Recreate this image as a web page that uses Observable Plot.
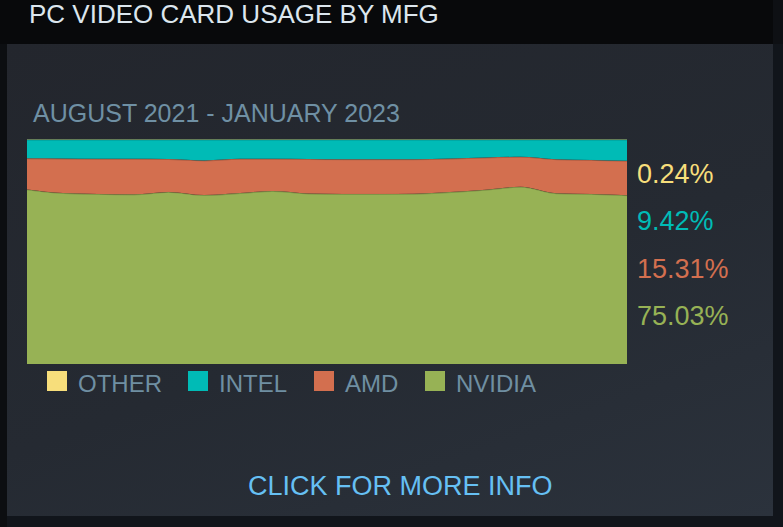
<!DOCTYPE html>
<html>
<head>
<meta charset="utf-8">
<script src="https://cdn.jsdelivr.net/npm/d3@7"></script>
<script src="https://cdn.jsdelivr.net/npm/@observablehq/plot@0.6"></script>
<style>
  html, body { margin:0; padding:0; }
  body { width:783px; height:527px; background:#11151b; position:relative; overflow:hidden;
         font-family:"Liberation Sans", Arial, sans-serif; }
  .abs { position:absolute; white-space:nowrap; line-height:1; }
  #header { left:0; top:0; width:783px; height:44px; background:#08090b; }
  #headerR { left:773px; top:0; width:10px; height:44px; background:#0e1014; }
  #leftStrip { left:0; top:44px; width:7px; height:483px; background:#0c0e11; }
  #panel { left:7px; top:44px; width:766px; height:472px;
           background:linear-gradient(160deg,#23262d 0%,#252a32 55%,#2b323c 100%); }
  #chart { left:27px; top:139px; }
</style>
</head>
<body>
<div class="abs" id="header"></div>
<div class="abs" id="headerR"></div>
<div class="abs" id="leftStrip"></div>
<div class="abs" id="panel"></div>
<div class="abs" id="title" style="left:29px; top:1px; font-size:26px; color:#dce6ee;">PC VIDEO CARD USAGE BY MFG</div>
<div class="abs" id="subtitle" style="left:33px; top:101px; font-size:25px; color:#6f90a4;">AUGUST 2021 - JANUARY 2023</div>
<div class="abs" id="chart"></div>
<div id="legend"></div>
<div id="labels"></div>
<div class="abs" id="more" style="left:248px; top:473px; font-size:27px; color:#66c0f4;">CLICK FOR MORE INFO</div>
<script>
// ---- data ----
const months = ["2021-08-01","2021-09-01","2021-10-01","2021-11-01","2021-12-01","2022-01-01",
                "2022-02-01","2022-03-01","2022-04-01","2022-05-01","2022-06-01","2022-07-01",
                "2022-08-01","2022-09-01","2022-10-01","2022-11-01","2022-12-01","2023-01-01"];
const nvidia = [77.60,76.00,75.60,75.40,76.50,75.10,76.00,76.90,75.80,75.60,75.60,75.70,76.40,77.50,78.80,75.90,75.60,75.03];
const amd    = [13.80,15.30,15.60,15.81,14.60,15.40,15.21,14.31,15.30,15.41,15.41,15.31,14.90,14.30,13.31,15.11,15.11,15.31];
const intel  = [8.34,8.45,8.55,8.55,8.65,9.25,8.55,8.55,8.65,8.75,8.75,8.75,8.45,7.95,7.65,8.75,9.05,9.42];
const other  = [0.26,0.25,0.25,0.24,0.25,0.25,0.24,0.24,0.25,0.24,0.24,0.24,0.25,0.25,0.24,0.24,0.24,0.24];

const stackOrder = ["NVIDIA","AMD","INTEL","OTHER"];      // bottom to top
const legendOrder = ["OTHER","INTEL","AMD","NVIDIA"];
const colors = {NVIDIA:"#97b255", AMD:"#d36f4f", INTEL:"#00bbb6", OTHER:"#f7de7b"};

const seriesValues = {NVIDIA:nvidia, AMD:amd, INTEL:intel, OTHER:other};
const rows = months.flatMap((m, i) =>
  stackOrder.map(k => ({date: new Date(m), mfg: k, share: seriesValues[k][i]})));

const chart = Plot.plot({
  width: 600, height: 225, margin: 0,
  style: {background: "none"},
  x: {type: "utc", axis: null},
  y: {domain: [0, 100], axis: null},
  color: {domain: stackOrder, range: stackOrder.map(k => colors[k])},
  marks: [
    Plot.areaY(rows, {x: "date", y: "share", fill: "mfg", order: stackOrder, curve: "monotone-x"}),
    Plot.lineY(rows, Plot.stackY2({x: "date", y: "share", z: "mfg", order: stackOrder,
      curve: "monotone-x", stroke: "#000", strokeOpacity: 0.18, strokeWidth: 1}))
  ]
});
document.getElementById("chart").appendChild(chart);

// legend
const legendX = [47, 188, 314, 425];
const legend = document.getElementById("legend");
legendOrder.forEach((k, i) => {
  const sw = document.createElement("div");
  sw.className = "abs";
  sw.style.cssText = `left:${legendX[i]}px; top:371px; width:20px; height:20px; background:${colors[k]};`;
  legend.appendChild(sw);
  const t = document.createElement("div");
  t.className = "abs";
  t.style.cssText = `left:${legendX[i] + 31}px; top:372px; font-size:24px; color:#6f8fa2;`;
  t.textContent = k;
  legend.appendChild(t);
});

// latest values on the right
const last = months.length - 1;
const labelTops = [161, 208, 256, 303];
const labels = document.getElementById("labels");
legendOrder.forEach((k, i) => {
  const t = document.createElement("div");
  t.className = "abs";
  t.style.cssText = `left:637px; top:${labelTops[i]}px; font-size:27px; color:${colors[k]};`;
  t.textContent = seriesValues[k][last].toFixed(2) + "%";
  labels.appendChild(t);
});
</script>
</body>
</html>
